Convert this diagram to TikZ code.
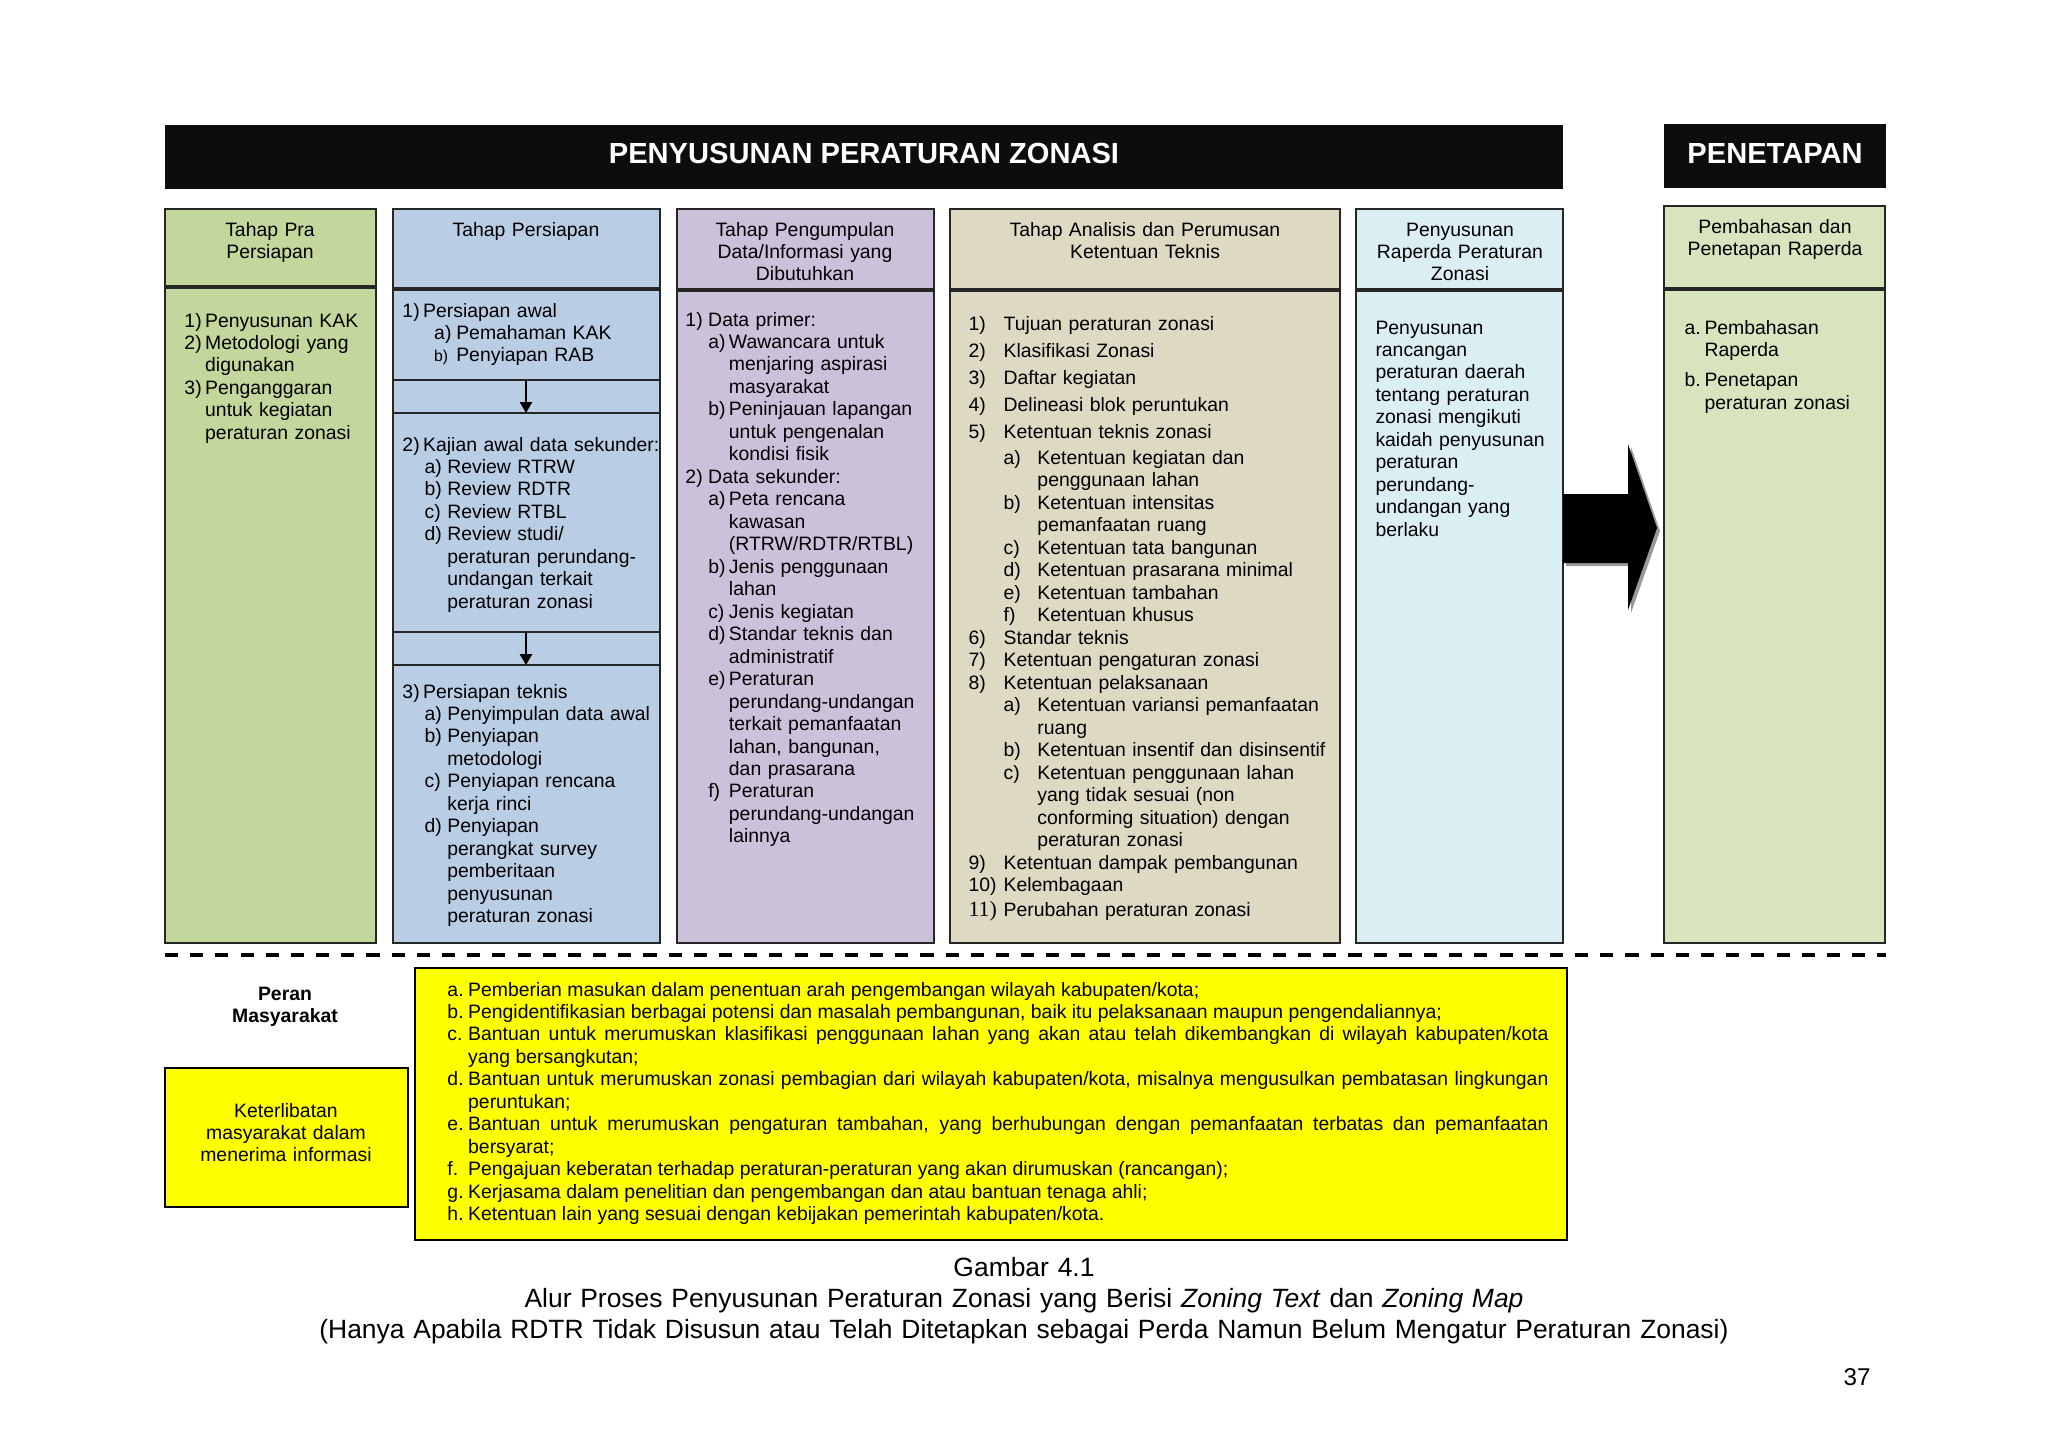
\documentclass[tikz,border=0pt]{standalone}
\usepackage{fontspec}
\setmainfont{Liberation Sans}
\newfontfamily\serifnum{Liberation Serif}
\usetikzlibrary{arrows.meta}
\definecolor{pzBar}{HTML}{0D0D0D}
\definecolor{pzLine}{HTML}{262626}
\definecolor{pzGreen}{HTML}{C3D69B}
\definecolor{pzBlue}{HTML}{B9CDE5}
\definecolor{pzPurple}{HTML}{CCC1DA}
\definecolor{pzTan}{HTML}{DDD9C3}
\definecolor{pzCyan}{HTML}{DBEEF4}
\definecolor{pzLight}{HTML}{D7E4BD}
\definecolor{pzYellow}{HTML}{FFFF00}
\definecolor{pzShadow}{HTML}{9A9A9A}
\newcommand{\txt}{\fontsize{8}{9.27}\selectfont\lineskiplimit=-4pt\parskip=0pt}
\newcommand{\lvl}[4]{\hangindent=\dimexpr#1+#2\relax\hangafter=1\noindent\hspace*{#1}\makebox[#2][l]{#3}#4\par}

\begin{document}
\begin{tikzpicture}[
  x=0.0145cm, y=-0.0145cm, font=\txt,
  bartext/.style={text=white, inner sep=0pt, font=\fontsize{12}{14}\selectfont\bfseries},
  stage/.style  ={draw=pzLine, line width=0.9pt},
  sep/.style    ={draw=pzLine, line width=1.4pt},
  thin/.style   ={draw=pzLine, line width=0.8pt},
  ybox/.style   ={draw=black, line width=0.8pt, fill=pzYellow},
  head/.style   ={align=center, inner sep=0pt, anchor=base},
  body/.style   ={align=left, inner sep=0pt, anchor=base west},
  flow/.style   ={-{Triangle[length=4.5pt,width=5pt]}, line width=0.8pt},
  divider/.style={line width=1.4pt, dash pattern=on 0.19cm off 0.175cm}]
  \useasboundingbox (0,0) rectangle (2048,1448);

  \fill[pzBar] (165,125) rectangle (1563,189);
  \node[bartext] (barSusun) at (864,153) {PENYUSUNAN PERATURAN ZONASI};
  \fill[pzBar] (1664,124) rectangle (1886,188);
  \node[bartext] (barTetap) at (1775,153) {PENETAPAN};

  \draw[stage, fill=pzGreen] (165,209) rectangle (376,943);
  \draw[sep] (165,287) -- (376,287);
  \draw[stage, fill=pzBlue] (393,209) rectangle (660,943);
  \draw[sep] (393,289) -- (660,289);
  \draw[thin] (393,380) -- (660,380);  \draw[thin] (393,413) -- (660,413);
  \draw[thin] (393,632) -- (660,632);  \draw[thin] (393,665) -- (660,665);
  \draw[stage, fill=pzPurple] (677,209) rectangle (934,943);
  \draw[sep] (677,290) -- (934,290);
  \draw[stage, fill=pzTan] (950,209) rectangle (1340,943);
  \draw[sep] (950,290) -- (1340,290);
  \draw[stage, fill=pzCyan] (1356,209) rectangle (1563,943);
  \draw[sep] (1356,290) -- (1563,290);
  \draw[stage, fill=pzLight] (1664,206) rectangle (1885,943);
  \draw[sep] (1664,289) -- (1885,289);

  \node[head, text width=3.0cm] (praHead) at (270,236) {Tahap Pra\\Persiapan};
  \node[body, text width=2.8cm] (praBody) at (184,327) {%
    \lvl{0pt}{0.30cm}{1)}{Penyusunan KAK}
    \lvl{0pt}{0.30cm}{2)}{Metodologi yang\newline digunakan}
    \lvl{0pt}{0.30cm}{3)}{Penganggaran\newline untuk kegiatan\newline peraturan zonasi}};

  \node[head, text width=3.8cm] (siapHead) at (526,236) {Tahap Persiapan};
  \node[body, text width=3.8cm] (siapAwal) at (402,317) {%
    \lvl{0pt}{0.30cm}{1)}{Persiapan awal}
    \lvl{0.46cm}{0.32cm}{a)}{Pemahaman KAK}
    \lvl{0.46cm}{0.32cm}{\fontsize{6.5}{7}\selectfont b)}{Penyiapan RAB}};
  \node[body, text width=3.8cm] (siapKaji) at (402,451) {%
    \lvl{0pt}{0.30cm}{2)}{Kajian awal data sekunder:}
    \lvl{0.32cm}{0.33cm}{a)}{Review RTRW}
    \lvl{0.32cm}{0.33cm}{b)}{Review RDTR}
    \lvl{0.32cm}{0.33cm}{c)}{Review RTBL}
    \lvl{0.32cm}{0.33cm}{d)}{Review studi/\newline peraturan perundang-\newline undangan terkait\newline peraturan zonasi}};
  \node[body, text width=3.8cm] (siapTeknis) at (402,698) {%
    \lvl{0pt}{0.30cm}{3)}{Persiapan teknis}
    \lvl{0.32cm}{0.33cm}{a)}{Penyimpulan data awal}
    \lvl{0.32cm}{0.33cm}{b)}{Penyiapan\newline metodologi}
    \lvl{0.32cm}{0.33cm}{c)}{Penyiapan rencana\newline kerja rinci}
    \lvl{0.32cm}{0.33cm}{d)}{Penyiapan\newline perangkat survey\newline pemberitaan\newline penyusunan\newline peraturan zonasi}};
  \coordinate (gapAtop) at (526,380);  \coordinate (gapAbot) at (526,413);
  \coordinate (gapBtop) at (526,632);  \coordinate (gapBbot) at (526,665);
  \draw[flow] (gapAtop) -- (gapAbot);
  \draw[flow] (gapBtop) -- (gapBbot);

  \node[head, text width=3.7cm] (dataHead) at (805,236) {Tahap Pengumpulan\\Data/Informasi yang\\Dibutuhkan};
  \node[body, text width=3.6cm] (dataBody) at (685,326) {%
    \lvl{0pt}{0.33cm}{1)}{Data primer:}
    \lvl{0.33cm}{0.30cm}{a)}{Wawancara untuk\newline menjaring aspirasi\newline masyarakat}
    \lvl{0.33cm}{0.30cm}{b)}{Peninjauan lapangan\newline untuk pengenalan\newline kondisi fisik}
    \lvl{0pt}{0.33cm}{2)}{Data sekunder:}
    \lvl{0.33cm}{0.30cm}{a)}{Peta rencana\newline kawasan\newline (RTRW/RDTR/RTBL)}
    \lvl{0.33cm}{0.30cm}{b)}{Jenis penggunaan\newline lahan}
    \lvl{0.33cm}{0.30cm}{c)}{Jenis kegiatan}
    \lvl{0.33cm}{0.30cm}{d)}{Standar teknis dan\newline administratif}
    \lvl{0.33cm}{0.30cm}{e)}{Peraturan\newline perundang-undangan\newline terkait pemanfaatan\newline lahan, bangunan,\newline dan prasarana}
    \lvl{0.33cm}{0.30cm}{f)}{Peraturan\newline perundang-undangan\newline lainnya}};

  \node[head, text width=5.6cm] (anaHead) at (1145,236) {Tahap Analisis dan Perumusan\\Ketentuan Teknis};
  \node[body, text width=5.4cm] (anaBody) at (968,330) {%
    \lvl{0pt}{0.51cm}{1)}{Tujuan peraturan zonasi}\vspace{1.9pt}
    \lvl{0pt}{0.51cm}{2)}{Klasifikasi Zonasi}\vspace{1.9pt}
    \lvl{0pt}{0.51cm}{3)}{Daftar kegiatan}\vspace{1.9pt}
    \lvl{0pt}{0.51cm}{4)}{Delineasi blok peruntukan}\vspace{1.9pt}
    \lvl{0pt}{0.51cm}{5)}{Ketentuan teknis zonasi}\vspace{1.5pt}
    \lvl{0.51cm}{0.49cm}{a)}{Ketentuan kegiatan dan\newline penggunaan lahan}
    \lvl{0.51cm}{0.49cm}{b)}{Ketentuan intensitas\newline pemanfaatan ruang}
    \lvl{0.51cm}{0.49cm}{c)}{Ketentuan tata bangunan}
    \lvl{0.51cm}{0.49cm}{d)}{Ketentuan prasarana minimal}
    \lvl{0.51cm}{0.49cm}{e)}{Ketentuan tambahan}
    \lvl{0.51cm}{0.49cm}{f)}{Ketentuan khusus}
    \lvl{0pt}{0.51cm}{6)}{Standar teknis}
    \lvl{0pt}{0.51cm}{7)}{Ketentuan pengaturan zonasi}
    \lvl{0pt}{0.51cm}{8)}{Ketentuan pelaksanaan}
    \lvl{0.51cm}{0.49cm}{a)}{Ketentuan variansi pemanfaatan\newline ruang}
    \lvl{0.51cm}{0.49cm}{b)}{Ketentuan insentif dan disinsentif}
    \lvl{0.51cm}{0.49cm}{c)}{Ketentuan penggunaan lahan\newline yang tidak sesuai (non\newline conforming situation) dengan\newline peraturan zonasi}
    \lvl{0pt}{0.51cm}{9)}{Ketentuan dampak pembangunan}
    \lvl{0pt}{0.51cm}{10)}{Kelembagaan}\vspace{1pt}
    \lvl{0pt}{0.51cm}{{\serifnum\fontsize{9}{9.27}\selectfont 11)}}{Perubahan peraturan zonasi}};

  \node[head, text width=3.0cm] (rapHead) at (1460,236) {Penyusunan\\Raperda Peraturan\\Zonasi};
  \node[body, text width=2.8cm] (rapBody) at (1375,334) {Penyusunan\\rancangan\\peraturan daerah\\tentang peraturan\\zonasi mengikuti\\kaidah penyusunan\\peraturan\\perundang-\\undangan yang\\berlaku};

  \fill[pzShadow] (1566,497) -- (1631,497) -- (1631,447) -- (1660,531) -- (1631,613) -- (1631,566) -- (1566,566) -- cycle;
  \fill[black] (1563,494) -- (1628,494) -- (1628,444) -- (1657,528) -- (1628,610) -- (1628,563) -- (1563,563) -- cycle;

  \node[head, text width=3.2cm] (tetHead) at (1775,233) {Pembahasan dan\\Penetapan Raperda};
  \node[body, text width=3.0cm] (tetBody) at (1684,334) {%
    \lvl{0pt}{0.29cm}{a.}{Pembahasan\newline Raperda}\vspace{3.2pt}
    \lvl{0pt}{0.29cm}{b.}{Penetapan\newline peraturan zonasi}};

  \draw[divider] (165,955) -- (1886,955);

  \node[head, text width=3.0cm, font=\txt\bfseries] (peranLbl) at (285,1000) {Peran\\Masyarakat};
  \draw[ybox] (165,1068) rectangle (408,1207);
  \node[head, text width=3.4cm] (libatLbl) at (286,1117) {Keterlibatan\\masyarakat dalam\\menerima informasi};
  \draw[ybox] (415,968) rectangle (1567,1240);
  \node[body, text width=15.96cm, align=justify] (peranList) at (447,996) {%
    \lvl{0pt}{0.30cm}{a.}{Pemberian masukan dalam penentuan arah pengembangan wilayah kabupaten/kota;}
    \lvl{0pt}{0.30cm}{b.}{Pengidentifikasian berbagai potensi dan masalah pembangunan, baik itu pelaksanaan maupun pengendaliannya;}
    \lvl{0pt}{0.30cm}{c.}{Bantuan untuk merumuskan klasifikasi penggunaan lahan yang akan atau telah dikembangkan di wilayah kabupaten/kota\linebreak yang bersangkutan;}
    \lvl{0pt}{0.30cm}{d.}{Bantuan untuk merumuskan zonasi pembagian dari wilayah kabupaten/kota, misalnya mengusulkan pembatasan lingkungan\linebreak peruntukan;}
    \lvl{0pt}{0.30cm}{e.}{Bantuan untuk merumuskan pengaturan tambahan, yang berhubungan dengan pemanfaatan terbatas dan pemanfaatan\linebreak bersyarat;}
    \lvl{0pt}{0.30cm}{f.}{Pengajuan keberatan terhadap peraturan-peraturan yang akan dirumuskan (rancangan);}
    \lvl{0pt}{0.30cm}{g.}{Kerjasama dalam penelitian dan pengembangan dan atau bantuan tenaga ahli;}
    \lvl{0pt}{0.30cm}{h.}{Ketentuan lain yang sesuai dengan kebijakan pemerintah kabupaten/kota.}};

  \node[head, text width=28cm, font=\fontsize{10.9}{12.8}\selectfont] (caption) at (1024,1276) {Gambar 4.1\\Alur Proses Penyusunan Peraturan Zonasi yang Berisi \textit{Zoning Text} dan \textit{Zoning Map}\\(Hanya Apabila RDTR Tidak Disusun atau Telah Ditetapkan sebagai Perda Namun Belum Mengatur Peraturan Zonasi)};
  \node[inner sep=0pt, anchor=base, font=\fontsize{10}{12}\selectfont] (pageNum) at (1857,1385) {37};
\end{tikzpicture}
\end{document}
